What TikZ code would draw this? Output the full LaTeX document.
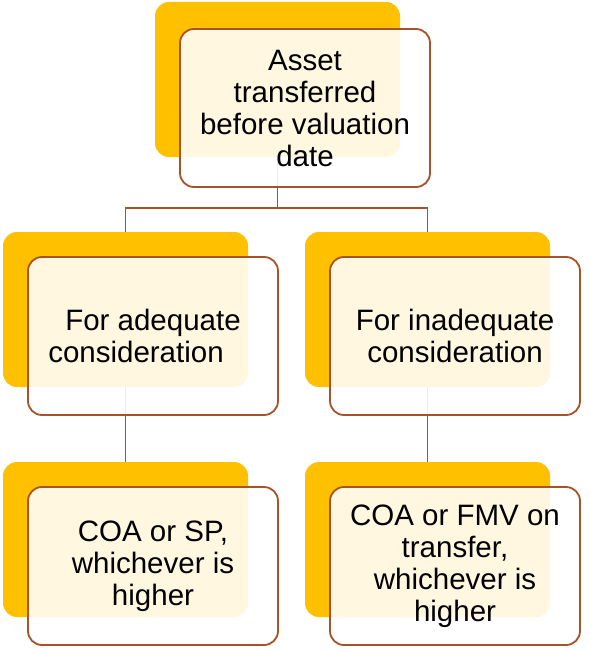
\documentclass[tikz,border=0pt]{standalone}
\usepackage{fontspec}
\setmainfont{Liberation Sans}
\usepackage{tikz}
\usetikzlibrary{positioning}
\definecolor{gold}{HTML}{FFC000}
\definecolor{rust}{RGB}{168,82,42}
\tikzset {
  x=1pt, y=1pt,
  % yellow card behind each box
  back/.style = {fill=gold, rounded corners=14pt, minimum width=245pt, minimum height=155pt, inner sep=0pt},
  % white box in front, lets the yellow shine through
  front/.style = {draw=rust, line width=1.8pt, fill=white, fill opacity=0.88, text opacity=1,
    rounded corners=14pt, minimum width=250pt, minimum height=158pt, inner sep=0pt,
    align=center, font=\fontsize{29.5}{32}\selectfont},
  % connectors
  link/.style = {draw=rust, line width=1.8pt},
}

\begin{document}
\begin{tikzpicture}
        \fill[white] (0,0) rectangle (590,-650);
        \useasboundingbox (0,0) rectangle (590,-650);

        \node[back] (b0) at (277.5,-79.5) {};
        \node[back] (b1) at (125.5,-309.5) {};
        \node[back] (b2) at (427.5,-309.5) {};
        \node[back] (b3) at (125.5,-539.5) {};
        \node[back] (b4) at (427.5,-539.5) {};

        \draw [link] (b0.south) -- ++(0,-51) -| (b1.north);
        \draw [link] (b0.south) -- ++(0,-51) -| (b2.north);
        \draw [link] (b1) -- (b3);
        \draw [link] (b2) -- (b4);

        \node[front] (f0) at ([shift={(27.5,-28.5)}]b0) {Asset\\transferred\\before valuation\\date};
        \node[front] (f1) at ([shift={(27.5,-26.5)}]b1) {For adequate\\consideration\hspace*{34pt}};
        \node[front] (f2) at ([shift={(27.5,-26.5)}]b2) {For inadequate\\consideration};
        \node[front] (f3) at ([shift={(27.5,-26.5)}]b3) {COA or SP,\\whichever is\\higher};
        \node[front] (f4) at ([shift={(27.5,-26.5)}]b4) {COA or FMV on\\transfer,\\whichever is\\higher};
      \end{tikzpicture}
\end{document}
